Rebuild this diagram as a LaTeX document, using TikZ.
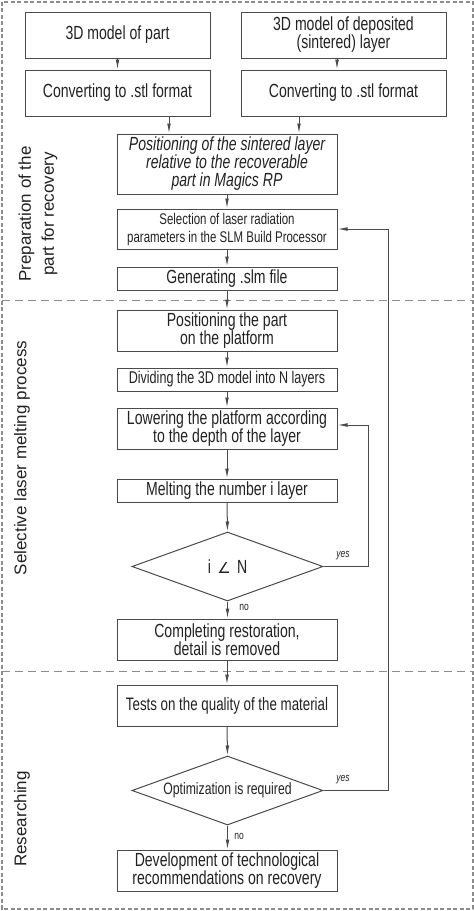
\documentclass[tikz,border=0pt]{standalone}
\usepackage{fontspec}
\setmainfont{Liberation Sans}
\newfontfamily\gost{Liberation Sans}[FakeStretch=0.74]
\newfontfamily\symfont{DejaVu Sans}
\usetikzlibrary{arrows.meta,shapes.geometric}
\definecolor{linegray}{HTML}{4A4A4A}
\definecolor{txtgray}{HTML}{222222}
\definecolor{dashgray}{HTML}{8C8C8C}
\tikzset{
  box/.style={draw=linegray, line width=1pt, text=txtgray, align=center, inner sep=0pt,
    font=\gost\fontsize{19}{18}\selectfont},
  smallbox/.style={box, font=\gost\fontsize{15.5}{18}\selectfont},
  decision/.style={draw=linegray, line width=1pt, text=txtgray, shape=diamond, aspect=2.77,
    inner sep=0pt, minimum width=191pt, minimum height=69pt, font=\gost\fontsize{16.5}{16.5}\selectfont},
  arr/.style={draw=linegray, line width=1pt, -{Latex[length=10pt,width=3.8pt]}},
  lab/.style={text=txtgray, font=\gost\fontsize{11.5}{11.5}\selectfont},
  sect/.style={text=txtgray, rotate=90, align=center, font=\fontsize{17}{23}\selectfont},
  border/.style={draw=dashgray, line width=2pt, dash pattern=on 4pt off 2.5pt},
  sep/.style={draw=dashgray, line width=1pt, dash pattern=on 8pt off 5pt}
}
\begin{document}
\begin{tikzpicture}[x=1pt,y=-1pt]
\useasboundingbox (0,0) rectangle (474,911);
% outer frame and section separators
\draw[border] (1.5,1.5) rectangle (472.5,908.5);
\coordinate (sL1) at (1.5,300);
\coordinate (sR1) at (472.5,300);
\coordinate (sL2) at (1.5,671);
\coordinate (sR2) at (472.5,671);
\draw[sep] (sL1) -- (sR1);
\draw[sep] (sL2) -- (sR2);
% section labels
\node[sect] (s1) at (38,214) {Preparation of the\\part for recovery};
\node[sect] (s2) at (22,458) {Selective laser melting process};
\node[sect] (s3) at (22,819) {Researching};
% boxes
\node[box, minimum width=185pt, minimum height=46pt] (A) at (117.5,35) {3D model of part};
\node[box, minimum width=205pt, minimum height=46pt] (B) at (343.5,35) {3D model of deposited\\(sintered) layer};
\node[box, minimum width=185pt, minimum height=46pt] (C) at (117.5,93) {Converting to .stl format};
\node[box, minimum width=205pt, minimum height=46pt] (D) at (343.5,93) {Converting to .stl format};
\node[box, minimum width=220pt, minimum height=60pt, font=\gost\itshape\fontsize{19}{18}\selectfont] (E) at (227,164)
  {Positioning of the sintered layer\\relative to the recoverable\\part in Magics RP};
\node[smallbox, minimum width=220pt, minimum height=40pt] (F) at (227,229)
  {Selection of laser radiation\\parameters in the SLM Build Processor};
\node[box, minimum width=220pt, minimum height=23pt] (G) at (227,278.5) {Generating .slm file};
\node[box, minimum width=220pt, minimum height=41pt] (H) at (227,330.5) {Positioning the part\\on the platform};
\node[box, minimum width=220pt, minimum height=23pt, font=\gost\fontsize{17}{17}\selectfont] (I) at (227,379.5) {Dividing the 3D model into N layers};
\node[box, minimum width=220pt, minimum height=41pt] (J) at (227,428.5) {Lowering the platform according\\to the depth of the layer};
\node[box, minimum width=220pt, minimum height=23pt] (K) at (227,490.5) {Melting the number i layer};
\node[decision, font=\gost\fontsize{19}{19}\selectfont] (L) at (227.5,566.5) {i\,\,{\symfont\fontsize{15}{15}\selectfont ∠}\,\,N};
\node[box, minimum width=220pt, minimum height=41pt] (M) at (227,639.5) {Completing restoration,\\detail is removed};
\node[box, minimum width=220pt, minimum height=41pt, font=\gost\fontsize{18}{18}\selectfont] (N) at (227,705.5) {Tests on the quality of the material};
\node[decision] (O) at (227.5,790.5) {Optimization is required};
\node[box, minimum width=220pt, minimum height=41pt] (P) at (227,870.5) {Development of technological\\recommendations on recovery};
% helper coordinates
\coordinate (xCE) at (169,0);
\coordinate (xDE) at (299,0);
\coordinate (xBD) at (337,0);
\coordinate (xMid) at (227,0);
\coordinate (loopL) at (368,0);
\coordinate (loopO) at (388,0);
\coordinate (yJ) at (0,425);
% connectors
\draw[arr] (A) -- (C);
\draw[arr] (B.south -| xBD) -- (D.north -| xBD);
\draw[arr] (C.south -| xCE) -- (E.north -| xCE);
\draw[arr] (D.south -| xDE) -- (E.north -| xDE);
\draw[arr] (E.south -| xMid) -- (F.north -| xMid);
\draw[arr] (F.south -| xMid) -- (G.north -| xMid);
\draw[arr] (G.south -| xMid) -- (H.north -| xMid);
\draw[arr] (H.south -| xMid) -- (I.north -| xMid);
\draw[arr] (I.south -| xMid) -- (J.north -| xMid);
\draw[arr] (J.south -| xMid) -- (K.north -| xMid);
\draw[arr] (K.south -| xMid) -- (L.north);
\draw[arr] (L.south) -- (M.north -| L.south);
\draw[arr] (M.south -| xMid) -- (N.north -| xMid);
\draw[arr] (N.south -| xMid) -- (O.north);
\draw[arr] (O.south) -- (P.north -| O.south);
\draw[arr] (L.east) -- (L.east -| loopL) -- (yJ -| loopL) -- (yJ -| J.east);
\draw[arr] (O.east) -- (O.east -| loopO) -- (F.east -| loopO) -- (F.east);
% labels
\node[lab, font=\gost\itshape\fontsize{11.5}{11.5}\selectfont] (yes1) at (343,556) {yes};
\node[lab, font=\gost\itshape\fontsize{11.5}{11.5}\selectfont] (yes2) at (343,780) {yes};
\node[lab] (no1) at (244,607) {no};
\node[lab] (no2) at (239,836) {no};
\end{tikzpicture}
\end{document}
